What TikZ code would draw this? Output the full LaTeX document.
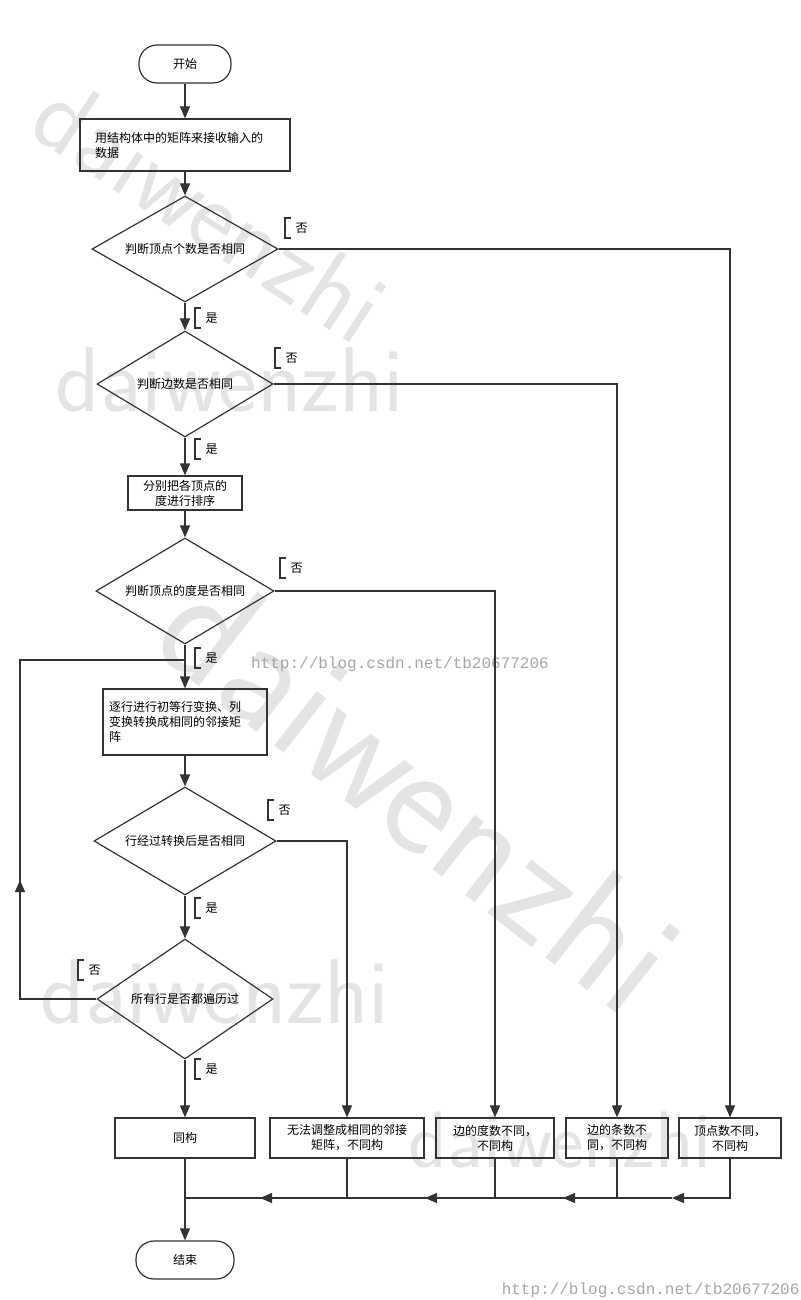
\documentclass[tikz,border=0pt]{standalone}
\usepackage{fontspec}
\setmainfont{Noto Sans CJK SC}
\setmonofont{Liberation Mono}
\usetikzlibrary{shapes.geometric,arrows.meta}
\definecolor{ink}{HTML}{333333}
\definecolor{wm}{HTML}{E4E4E4}
\tikzset{%
  term/.style={rectangle, draw=ink, rounded corners=9pt, minimum width=46pt, minimum height=19pt, inner sep=0},
  proc/.style={rectangle, draw=ink, align=center, inner sep=0},
  dec/.style={diamond, draw=ink, aspect=1.7, inner sep=0},
  line/.style={draw=ink, -{Triangle[length=6pt,width=5pt]}},
  plain/.style={draw=ink},
  yntext/.style={font=\fontsize{6}{7}\selectfont, inner sep=0},
  water/.style={text=wm, font=\fontsize{46}{46}\selectfont\sffamily, inner sep=0}}
\newcommand{\yesno}[3]{%
  \draw[ink] (#1+6,#2-10) -- (#1,#2-10) -- (#1,#2+10) -- (#1+6,#2+10);
  \node[yntext, anchor=west] at (#1+10,#2) {#3};}

\begin{document}
\begin{tikzpicture}[x=0.5pt, y=-0.5pt, font=\fontsize{6}{7.5}\selectfont, line width=0.6pt]
    \useasboundingbox (0,0) rectangle (800,1300);
    % watermarks
    \node[water, rotate=-33, font=\fontsize{52}{52}\selectfont\sffamily] (w1) at (210,210) {daiwenzhi};
    \node[water] (w2) at (230,380) {daiwenzhi};
    \node[water, rotate=-38, font=\fontsize{80}{80}\selectfont\sffamily] (w3) at (420,790) {daiwenzhi};
    \node[water] (w4) at (215,992) {daiwenzhi};
    \node[water, font=\fontsize{40}{40}\selectfont\sffamily] (w5) at (560,1140) {daiwenzhi};
    \node[text=gray!70, font=\fontsize{8}{8}\ttfamily, inner sep=0] (u1) at (400,664) {http://blog.csdn.net/tb20677206};
    \node[text=gray!70, font=\fontsize{8}{8}\ttfamily, inner sep=0, anchor=east] (u2) at (800,1290) {http://blog.csdn.net/tb20677206};

    \node[term] (start) at (185,64) {开始};
    \node[proc, minimum width=105pt, minimum height=26pt, text width=98pt, align=left] (recv) at (185,145) {\hspace*{4pt}用结构体中的矩阵来接收输入的\\\hspace*{4pt}数据};
    \node[dec, minimum width=93pt, minimum height=53pt] (vnum) at (185,249) {判断顶点个数是否相同};
    \node[dec, minimum width=88pt, minimum height=53pt] (enum) at (185,384) {判断边数是否相同};
    \node[proc, minimum width=57pt, minimum height=17pt] (sort) at (185,493) {分别把各顶点的\\度进行排序};
    \node[dec, minimum width=89pt, minimum height=53pt] (deg) at (185,591) {判断顶点的度是否相同};
    \node[proc, minimum width=82pt, minimum height=33pt, text width=76pt, align=left] (trans) at (185,722) {逐行进行初等行变换、列\\变换转换成相同的邻接矩\\阵};
    \node[dec, minimum width=91pt, minimum height=54pt] (rowq) at (185,841) {行经过转换后是否相同};
    \node[dec, minimum width=88pt, minimum height=60pt] (allq) at (185,999) {所有行是否都遍历过};

    \node[proc, minimum width=70pt, minimum height=20pt] (iso) at (185,1138) {同构};
    \node[proc, minimum width=77pt, minimum height=20pt] (nomat) at (347,1138) {无法调整成相同的邻接\\矩阵，不同构};
    \node[proc, minimum width=59pt, minimum height=20pt] (nodeg) at (495,1138) {边的度数不同，\\不同构};
    \node[proc, minimum width=51pt, minimum height=20pt] (noedge) at (617,1138) {边的条数不\\同，不同构};
    \node[proc, minimum width=51pt, minimum height=20pt] (novert) at (730,1138) {顶点数不同，\\不同构};
    \node[term, minimum width=49pt] (stop) at (185,1260) {结束};

    \coordinate (loop) at (185,660);
    \coordinate (m1) at (260,1198);
    \coordinate (m2) at (425,1198);
    \coordinate (m3) at (563,1198);
    \coordinate (m4) at (672,1198);

    \path [line] (start) -- (recv);
    \path [line] (recv) -- (vnum);
    \path [line] (vnum) -- (enum);
    \path [line] (enum) -- (sort);
    \path [line] (sort) -- (deg);
    \path [line] (deg) -- (trans);
    \path [line] (trans) -- (rowq);
    \path [line] (rowq) -- (allq);
    \path [line] (allq) -- (iso);
    \path [line] (iso) -- (stop);

    \path [line] (vnum.east) -| (novert.north);
    \path [line] (enum.east) -| (noedge.north);
    \path [line] (deg.east) -| (nodeg.north);
    \path [line] (rowq.east) -| (nomat.north);
    \path [plain] (allq.west) -| (20,660) -- (loop);
    \path [line] (20,999) -- (20,880);

    \path [line] (novert.south) |- (m4);
    \path [line] (m4) -- (m3);
    \path [plain] (noedge.south) |- (m3);
    \path [line] (m3) -- (m2);
    \path [plain] (nodeg.south) |- (m2);
    \path [line] (m2) -- (m1);
    \path [plain] (nomat.south) |- (m1);
    \path [plain] (m1) -- (185,1198);

    \yesno{285}{228}{否}
    \yesno{195}{318}{是}
    \yesno{275}{358}{否}
    \yesno{195}{449}{是}
    \yesno{280}{568}{否}
    \yesno{195}{658}{是}
    \yesno{268}{810}{否}
    \yesno{195}{908}{是}
    \yesno{78}{970}{否}
    \yesno{195}{1069}{是}
\end{tikzpicture}
\end{document}
